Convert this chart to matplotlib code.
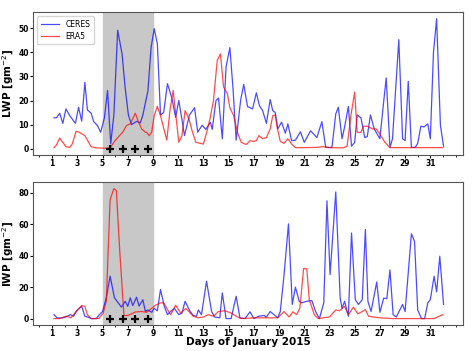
import matplotlib
matplotlib.use('Agg')
import matplotlib.pyplot as plt
import numpy as np
from matplotlib.ticker import MultipleLocator

# LWP, CERES
lwp_ceres_day = [1.15, 1.35, 1.6, 1.85, 2.1, 2.4, 2.85, 3.1, 3.35, 3.6, 3.8, 4.1, 4.3, 4.6, 4.85,
                 5.15, 5.4, 5.65, 5.9, 6.2, 6.55, 6.8, 7.05, 7.3, 7.7, 8.0, 8.2, 8.6, 8.85, 9.1,
                 9.35, 9.6, 9.85, 10.15, 10.5, 10.8, 11.05, 11.3, 11.5, 11.9, 12.3, 12.55, 12.9,
                 13.2, 13.55, 13.7, 14.0, 14.2, 14.5, 14.8, 15.1, 15.35, 15.6, 15.95, 16.2, 16.5,
                 16.9, 17.2, 17.45, 17.7, 18.0, 18.3, 18.5, 18.7, 18.9, 19.2, 19.5, 19.7, 20.0,
                 20.3, 20.7, 21.0, 21.5, 22.0, 22.4, 22.7, 23.2, 23.5, 23.7, 24.0, 24.2, 24.5,
                 24.75, 25.0, 25.2, 25.5, 25.8, 26.0, 26.25, 26.55, 27.0, 27.25, 27.5, 27.8,
                 28.0, 28.5, 28.8, 29.0, 29.25, 29.5, 29.8, 30.0, 30.25, 30.5, 30.8, 31.0,
                 31.25, 31.5, 31.8, 32.05]
lwp_ceres = [12.8, 12.8, 14.7, 10.5, 16.5, 13.7, 10.5, 17.2, 11.4, 27.6, 16.1, 14.7, 11.2, 9.6, 6.8,
             12.8, 24.2, 2.0, 14, 49.2, 39.4, 25, 14, 10, 11.3, 10.7, 14, 24, 42, 49.9,
             43.6, 14, 15, 27, 21, 13, 20, 12, 5.4, 14, 17, 6.8, 9.7,
             8, 11, 8, 20, 21, 4.1, 34, 42, 25, 3.5, 20, 26.7, 17.5,
             16.5, 23.2, 17.8, 15.8, 10.5, 20.4, 15.8, 15, 8.2, 11, 6.4, 10.3, 3.3,
             3.5, 7, 2.6, 7.4, 4.6, 11.2, 0.5, 0.5, 14.4, 17.2, 4.1, 9, 17.5,
             1, 2.6, 14, 12.8, 4.6, 5, 14, 8.2, 4.1, 17, 29.4, 0.5,
             4.1, 45.3, 4.1, 3.3, 28, 0.5, 0.5, 2.2, 9.3, 9, 10.3, 4.1,
             40, 54, 9.7, 1]

# LWP, ERA5
lwp_era5_day = [1.15, 1.35, 1.6, 1.85, 2.1, 2.4, 2.6, 2.9, 3.15, 3.6, 3.9, 4.1, 4.5, 5.0, 5.6,
                5.95, 6.35, 6.6, 6.9, 7.2, 7.4, 7.6, 7.8, 8.1, 8.4, 8.5, 8.7, 8.9, 9.1, 9.35,
                9.6, 9.9, 10.1, 10.35, 10.6, 10.8, 11.05, 11.3, 11.55, 11.85, 12.1, 12.4, 12.75,
                13.0, 13.3, 13.55, 13.8, 14.1, 14.35, 14.6, 14.9, 15.1, 15.4, 15.7, 16.0, 16.4,
                16.7, 17.0, 17.2, 17.4, 17.7, 18.0, 18.3, 18.5, 18.7, 18.85, 19.1, 19.4, 19.7,
                20.0, 20.3, 21.0, 22.0, 22.5, 23.0, 24.1, 24.4, 24.7, 25.0, 25.2, 25.5, 25.7,
                26.0, 26.4, 26.7, 27.0, 27.4, 27.8, 32.0]
lwp_era5 = [0.4, 1.5, 4.4, 2.6, 0.8, 0.5, 1.9, 7.2, 6.8, 5.4, 2.6, 0.8, 0.3, 0.2, 0.2,
            3, 5.4, 6.8, 9.6, 10.3, 12.5, 14.7, 11.8, 8.2, 6.8, 6.8, 5.4, 6.8, 13.7, 17.6,
            13.7, 7.5, 3.5, 16, 24.2, 14.7, 2.6, 5.4, 15.8, 12.5, 7.5, 2.6, 2.2,
            1.9, 7.5, 13, 20, 36.7, 39.4, 25.6, 22.8, 17, 13.7, 6.8, 2.6, 1.7,
            3.3, 3, 3.3, 5.4, 4.1, 4.6, 8.2, 13.7, 14, 8.9, 3, 2.2, 4.1,
            1.9, 0.4, 0.4, 0.5, 0.8, 0.4, 0.3, 1, 13.7, 23.5, 6.8, 6.8, 9.3,
            9.3, 8.2, 8.2, 6, 2.6, 0.4, 0.4]

# IWP, CERES
iwp_ceres_day = [1.15, 1.4, 1.8, 2.05, 2.45, 2.7, 2.95, 3.35, 3.6, 3.85, 4.1, 4.5, 4.75, 5.0, 5.3,
                 5.6, 5.95, 6.5, 6.8, 7.0, 7.2, 7.4, 7.7, 7.9, 8.2, 8.4, 8.6, 8.9, 9.1, 9.35,
                 9.6, 9.9, 10.15, 10.4, 10.7, 11.05, 11.3, 11.55, 11.95, 12.2, 12.45, 12.6,
                 12.85, 13.25, 13.65, 13.9, 14.3, 14.5, 14.8, 15.2, 15.6, 15.9, 16.3, 16.7,
                 17.0, 17.4, 17.8, 18.0, 18.3, 18.6, 18.9, 19.1, 19.4, 19.75, 20.05, 20.3,
                 20.6, 20.8, 21.2, 21.6, 21.9, 22.2, 22.55, 22.8, 23.05, 23.5, 23.85, 24.0,
                 24.2, 24.5, 24.75, 25.05, 25.3, 25.6, 25.85, 26.05, 26.3, 26.75, 27.0, 27.3,
                 27.55, 27.8, 28.05, 28.3, 28.8, 29.0, 29.5, 29.75, 30.0, 30.3, 30.55, 30.8,
                 31.0, 31.3, 31.5, 31.75, 32.05]
iwp_ceres = [2.5, 0.4, 0.4, 0.9, 2.5, 1.5, 5, 7.8, 1.5, 0.9, 0, 0, 2.5, 4.5, 13.2,
             27, 13.2, 7.3, 11, 7.8, 13.2, 8.3, 13.6, 8, 12, 4.5, 5.5, 4, 6.5, 5,
             18.5, 7.8, 2.5, 4.5, 6.5, 2.5, 3.5, 11, 4.5, 2, 1.5, 5.5,
             2.5, 23.8, 4.5, 1, 0.5, 16.3, 0, 0, 14.2, 0.5, 0, 4.3,
             0, 1.5, 2, 1, 4.5, 2.5, 0.5, 4.5, 28, 60.3, 9, 20,
             11, 10, 11, 11.5, 4.5, 0, 10, 75, 28, 80.6, 13, 6.5,
             11, 1.5, 54.5, 12, 9, 12, 56.7, 11, 4.5, 23.3, 4, 13,
             12.7, 31, 2.5, 1, 9, 4.5, 54, 49, 5.5, 0, 0, 10,
             12, 27, 17, 39.7, 9]

# IWP, ERA5
iwp_era5_day = [1.15, 1.6, 2.1, 2.5, 2.9, 3.35, 3.6, 3.8, 4.1, 4.7, 5.05, 5.3, 5.6, 5.9, 6.1,
                6.35, 6.7, 7.0, 7.25, 7.6, 8.1, 8.5, 8.9, 9.2, 9.6, 9.85, 10.1, 10.4, 10.8,
                11.2, 11.6, 11.85, 12.2, 12.6, 13.0, 13.4, 13.8, 14.2, 14.7, 15.2, 15.6, 16.0,
                17.0, 18.0, 18.9, 19.4, 19.8, 20.1, 20.4, 20.65, 20.95, 21.2, 21.4, 21.8, 22.1,
                22.5, 23.0, 23.5, 23.8, 24.2, 24.5, 24.9, 25.25, 25.6, 25.85, 26.1, 26.5, 27.0,
                28.0, 31.3, 32.0]
iwp_era5 = [0, 0, 1.5, 0.5, 4.5, 8.3, 7.8, 2.5, 0, 0, 3.5, 11, 75.7, 82.7, 81.5,
            45, 2, 2, 2.8, 4.2, 4.5, 4, 6.5, 8.5, 10, 10, 6.5, 2.5, 8.5,
            3.5, 6.5, 4.5, 1.5, 0.5, 1, 2.5, 1.5, 4.5, 5, 3.5, 1.5, 0,
            0.5, 0.5, 0.5, 4.5, 1, 4.3, 2.5, 6.5, 31.8, 31.8, 12, 2.5, 0,
            0.5, 1, 5.5, 5, 7.8, 2.5, 7.3, 3, 4.5, 5.7, 1.5, 1, 0.5,
            0, 0, 2.5]

# days marked with +
mark_days = [5.6, 6.6, 7.6, 8.6]
shade_start, shade_end = 5, 9

fig, axes = plt.subplots(nrows=2, ncols=1, figsize=(4.74, 3.51), dpi=100)
fig.subplots_adjust(left=0.07, right=0.977, top=0.965, bottom=0.074, hspace=0.19)

panels = [
    (axes[0], lwp_ceres_day, lwp_ceres, lwp_era5_day, lwp_era5, 'LWP [gm$^{-2}$]', (-2.7, 56.7), 10),
    (axes[1], iwp_ceres_day, iwp_ceres, iwp_era5_day, iwp_era5, 'IWP [gm$^{-2}$]', (-4.1, 86.8), 20),
]

for ax, cd, cv, ed, ev, ylabel, ylim, ystep in panels:
    ax.axvspan(shade_start, shade_end, color='#c8c8c8', zorder=0)
    ax.plot(cd, cv, color='b', alpha=0.7, lw=0.9, label='CERES')
    ax.plot(ed, ev, color='r', alpha=0.7, lw=0.9, label='ERA5')
    ax.plot(mark_days, np.zeros(len(mark_days)), '+', color='k', ms=5.5, mew=1.6)
    ax.set_xlim(-0.5, 33.6)
    ax.set_ylim(*ylim)
    ax.set_xticks(np.arange(1, 32, 2))
    ax.xaxis.set_minor_locator(MultipleLocator(1))
    ax.yaxis.set_major_locator(MultipleLocator(ystep))
    ax.tick_params(labelsize=5.5, length=2, width=0.8, pad=1)
    ax.tick_params(which='minor', length=1.5, width=0.6)
    for lab in ax.get_xticklabels() + ax.get_yticklabels():
        lab.set_fontweight('bold')
    ax.set_ylabel(ylabel, fontsize=7.5, fontweight='bold')
    ax.yaxis.set_label_coords(-0.04, 0.5)
    for sp in ax.spines.values():
        sp.set_color('#555555')

axes[0].legend(loc='upper left', fontsize=5.5, handlelength=2.4, borderpad=0.5, labelspacing=0.35)
axes[1].set_xlabel('Days of January 2015', fontsize=7.5, fontweight='bold')
axes[1].xaxis.set_label_coords(0.5, -0.085)

fig.savefig('out.png', dpi=100)
